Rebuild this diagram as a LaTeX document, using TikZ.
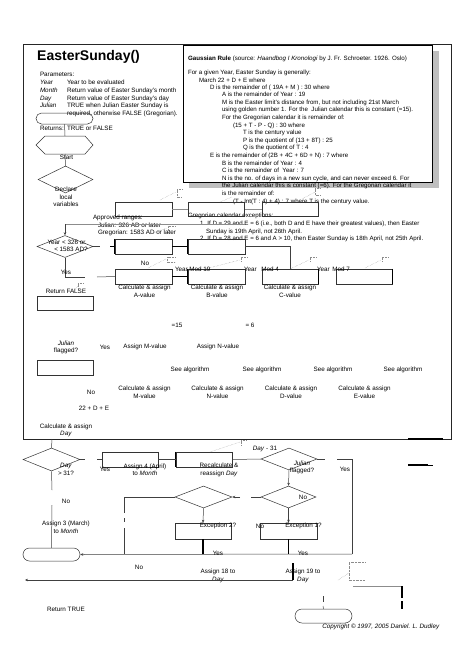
\documentclass[tikz,border=0pt]{standalone}
\usepackage{fontspec}
\setmainfont{Liberation Sans}
\usetikzlibrary{arrows.meta,shapes.geometric}
\begin{document}
\begin{tikzpicture}[x=1pt,y=-1pt,
  txt/.style={font=\fontsize{6.3}{7.5}\selectfont, inner sep=0pt, outer sep=0pt},
  ctxt/.style={txt, align=center},
  ltxt/.style={txt, anchor=mid west},
  gtxt/.style={ltxt, font=\fontsize{6.15}{7.5}\selectfont},
  pbox/.style={draw=black!80, line width=0.5pt, inner sep=0pt, minimum width=56pt, minimum height=15pt},
  term/.style={draw=black!80, line width=0.5pt, rounded corners=6pt, inner sep=0pt, minimum width=57pt, minimum height=12pt},
  dia/.style={draw=black!80, line width=0.5pt, diamond, inner sep=0pt},
  ln/.style={draw=black!75, line width=0.5pt},
  lnl/.style={draw=black!45, line width=0.5pt},
  tk/.style={draw=black, line width=1.1pt},
  dt/.style={draw=black!45, densely dotted, line width=0.4pt},
  arr/.style={-{Stealth[length=3pt,width=2.6pt]}},
]
\useasboundingbox[fill=white] (0,0) rectangle (474,670);

% outer frame
\draw[line width=0.9pt, black!85] (23,44) rectangle (451,439);

% title and parameters
\node[font=\fontsize{14}{16}\selectfont\bfseries, inner sep=0pt, anchor=mid west] (title) at (37,57.5) {EasterSunday()};
\node[ltxt] (ppar) at (40,74.3) {Parameters:};
\node[ltxt] (pyl) at (40,82.3) {\textit{Year}};
\node[ltxt] (pyd) at (67,82.3) {Year to be evaluated};
\node[ltxt] (pml) at (40,90) {\textit{Month}};
\node[ltxt] (pmd) at (67,90) {Return value of Easter Sunday's month};
\node[ltxt] (pdl) at (40,97.7) {\textit{Day}};
\node[ltxt] (pdd) at (67,97.7) {Return value of Easter Sunday's day};
\node[ltxt] (pjl) at (40,105) {\textit{Julian}};
\node[ltxt] (pjd) at (67,105) {TRUE when Julian Easter Sunday is};
\node[ltxt] (pjd2) at (67,112.7) {required, otherwise FALSE (Gregorian).};
\node[term, minimum height=11pt, rounded corners=5.5pt] (t0) at (64.5,118.5) {};
\node[ltxt] (pret) at (40,128.3) {Returns:};
\node[ltxt] (pretd) at (67,128.3) {TRUE or FALSE};

% hexagon
\draw[draw=black!80, line width=0.5pt] (36,145) -- (45,136) -- (85,136) -- (93,145) -- (85,154) -- (45,154) -- cycle;
\coordinate (hexT) at (65,136);
\coordinate (hexB) at (65,154);
\node[ctxt] (start) at (66.5,157.7) {Start};
\draw[ln] (t0.south) -- (hexT);

% declare diamond
\node[dia, minimum width=55pt, minimum height=27pt] (dl) at (65.5,179.5) {};
\draw[ln] (hexB) -- (dl.north);
\node[ctxt] (dltxt) at (66,197) {Declare\\local\\variables};

% Gaussian rule box
\fill[black!25] (189,51) rectangle (439,188);
\node[draw=black, line width=0.8pt, fill=white, inner sep=0pt, minimum width=249pt, minimum height=137pt] (gbox) at (307.5,113.5) {};
\node[ltxt, font=\fontsize{6.2}{7.5}\selectfont] (g0) at (188,58) {\textbf{Gaussian Rule} (source: \textit{Haandbog I Kronologi} by J. Fr. Schroeter. 1926. Oslo)};
\node[gtxt] (g1) at (188,72.3) {For a given Year, Easter Sunday is generally:};
\node[gtxt] (g2) at (199,79.5) {March 22 + D + E where};
\node[gtxt] (g3) at (210,87) {D is the remainder of ( 19A + M ) : 30 where};
\node[gtxt] (g4) at (222,94.3) {A is the remainder of Year : 19};
\node[gtxt] (g5) at (222,101.8) {M is the Easter limit's distance from, but not including 21st March};
\node[gtxt] (g6) at (222,109.3) {using golden number 1. For the \ Julian calendar this is constant (=15).};
\node[gtxt] (g7) at (222,117) {For the Gregorian calendar it is remainder of:};
\node[gtxt] (g8) at (233,124.4) {(15 + T - P - Q) : 30 where};
\node[gtxt] (g9) at (243,132) {T is the century value};
\node[gtxt] (g10) at (243,139.7) {P is the quotient of (13 + 8T) : 25};
\node[gtxt] (g11) at (243,147.3) {Q is the quotient of T : 4};
\node[gtxt] (g12) at (210,155) {E is the remainder of (2B + 4C + 6D + N) : 7 where};
\node[gtxt] (g13) at (222,162.4) {B is the remainder of Year : 4};
\node[gtxt] (g14) at (222,170) {C is the remainder of \ Year : 7};
\node[gtxt] (g15) at (222,177.4) {N is the no. of days in a new sun cycle, and can never exceed 6. For};
\node[gtxt] (g16) at (222,185) {the Julian calendar this is constant (=6). For the Gregorian calendar it};
\node[gtxt] (g17) at (222,192.7) {is the remainder of:};
\node[gtxt] (g18) at (233,200.5) {(T - Int(T : 4) + 4) : 7 where T is the century value.};
\node[gtxt] (g19) at (188,215) {Gregorian calendar exceptions:};
\node[gtxt] (g20) at (200,223) {1. If D = 29 and E = 6 (i.e., both D and E have their greatest values), then Easter};
\node[gtxt] (g21) at (206,230.7) {Sunday is 19th April, not 26th April.};
\node[gtxt] (g22) at (200,238.3) {2. If D = 28 and E = 6 and A > 10, then Easter Sunday is 18th April, not 25th April.};

% process boxes
\node[pbox, minimum width=57pt, minimum height=14pt] (a1) at (143.5,209) {};
\node[pbox, minimum height=14pt] (b1) at (216.5,209) {};
\node[pbox, minimum height=14pt] (c1) at (290,209) {};
\node[pbox, minimum width=57pt] (a2) at (143.5,246.5) {};
\node[pbox, minimum width=57pt] (b2) at (216.5,246.5) {};
\node[pbox, minimum width=57pt] (a3) at (143.5,276.5) {};
\node[pbox, minimum width=57pt] (b3) at (216.5,276.5) {};
\node[pbox] (c3) at (290,276.5) {};
\node[pbox] (d3) at (364,276.5) {};
\node[pbox, minimum height=14pt] (rf) at (65,303) {};
\node[pbox] (jf) at (65,367.5) {};
\node[pbox] (ap) at (130,459.5) {};
\node[pbox] (rc) at (204,459.5) {};
\node[pbox, minimum height=16pt] (e2) at (203,531) {};
\node[pbox, minimum width=57pt, minimum height=16pt] (e1) at (288.5,531) {};
\node[term, minimum height=13pt, rounded corners=6.5pt] (t1) at (51.5,554.5) {};
\node[term, minimum height=14pt, rounded corners=7pt] (t2) at (323.5,616) {};
\draw[tk] (a2.north west) -- (a2.south west);
\draw[tk] (b2.north west) -- (b2.south west);
\draw[tk] (b3.north west) -- (b3.south west);
\draw[tk, line width=0.9pt] (c3.north east) -- (c3.south east);
\draw[tk, line width=0.9pt] (d3.north east) -- (d3.south east);
\draw[tk, line width=0.9pt] (rc.north west) -- (rc.south west);

% row connectors
\draw[lnl] (a1.east) -- (b1.west);
\draw[lnl] (b1.east) -- (c1.west);
\draw[tk] (a2.east) -- (b2.west);
\draw[tk] (a3.east) -- (b3.west);
\draw[ln, line width=0.9pt] (b2.east) -- (290,246.5) -- (c3.north);

% year check
\node[ltxt] (apr1) at (93,217) {Approved ranges:};
\node[ltxt] (apr2) at (98,224.5) {Julian: 326 AD or later};
\node[ltxt] (apr3) at (98,232) {Gregorian: 1583 AD or later};
\coordinate (rngE) at (245,224);
\coordinate (rngL) at (65,224);
\draw[lnl] (rngE) -- (rngL);
\node[dia, minimum width=56pt, minimum height=22pt] (dy) at (65,246.5) {};
\draw[ln, arr] (rngL) -- (dy.north);
\node[ctxt] (dyt1) at (66.5,242) {Year < 326 or};
\node[ctxt] (dyt2) at (71,249) {< 1583 AD?};
\coordinate (dyg1) at (100,246.5);
\coordinate (dyg2) at (110,246.5);
\draw[ln] (dy.east) -- (dyg1);
\draw[tk] (dyg2) -- (a2.west);
\coordinate (ysg1) at (85,277);
\coordinate (ysg2) at (97,277);
\draw[ln] (dy.south) |- (ysg1);
\draw[ln] (ysg2) -- (a3.west);
\node[ctxt] (no1) at (145,263) {No};
\node[ctxt] (yes1) at (66,272) {Yes};
\node[ctxt] (retf) at (66,291) {Return FALSE};

\node[ltxt] (ym19) at (175,269) {Year Mod 19};
\node[ltxt] (ym4) at (244,269) {Year\hspace{3pt} Mod 4};
\node[ltxt] (ym7) at (317,269) {Year\hspace{1pt} Mod 7};
\node[ctxt] (ca) at (144.5,291.3) {Calculate \& assign\\A-value};
\node[ctxt] (cb) at (217,291.3) {Calculate \& assign\\B-value};
\node[ctxt] (cc) at (290,291.3) {Calculate \& assign\\C-value};

\node[ctxt] (eq15) at (177,325) {=15};
\node[ctxt] (eq6) at (250,325) {= 6};
\node[ctxt] (jfl) at (66,347.5) {\textit{Julian}\\flagged?};
\node[ctxt] (yes2) at (105,347) {Yes};
\node[ctxt] (asm) at (145,347) {Assign M-value};
\node[ctxt] (asn) at (218,347) {Assign N-value};
\node[ctxt] (sa1) at (190,370) {See algorithm};
\node[ctxt] (sa2) at (262,370) {See algorithm};
\node[ctxt] (sa3) at (333,370) {See algorithm};
\node[ctxt] (sa4) at (403,370) {See algorithm};
\node[ctxt] (no2) at (91,392) {No};
\node[ctxt] (cm) at (144.5,392) {Calculate \& assign\\M-value};
\node[ctxt] (cn) at (217.5,392) {Calculate \& assign\\N-value};
\node[ctxt] (cd) at (291,392) {Calculate \& assign\\D-value};
\node[ctxt] (ce) at (364.5,392) {Calculate \& assign\\E-value};
\node[ctxt] (dde) at (94,408) {22 + D + E};
\node[ctxt] (cday) at (66,430.5) {Calculate \& assign\\\textit{Day}};

% right-hand thick marks
\draw[line width=2pt] (408,439) -- (443,439);
\draw[line width=2.2pt] (408,465) -- (428,465);
\draw[line width=1pt] (428,465) -- (433,465);

% lower flow
\coordinate (fb) at (52,439);
\node[dia, minimum width=57pt, minimum height=23pt] (dd) at (51.5,459.5) {};
\draw[ln] (fb) -- (dd.north);
\node[ctxt] (ddt) at (66,469.5) {\textit{Day}\\> 31?};
\coordinate (ddg1) at (85,459.5);
\coordinate (ddg2) at (97,459.5);
\draw[ln] (dd.east) -- (ddg1);
\draw[ln] (ddg2) -- (ap.west);
\node[ctxt] (yes3) at (105,469.5) {Yes};
\node[ctxt] (apt) at (145,469.5) {Assign 4 (April)\\to \textit{Month}};
\draw[ln] (ap.east) -- (rc.west);
\node[ctxt] (rct) at (219,470) {Recalculate \&\\reassign \textit{Day}};
\node[dia, minimum width=56pt, minimum height=22pt] (dj) at (289,459) {};
\draw[ln] (rc.east) -- (dj.west);
\node[ctxt] (d31) at (265,449) {\textit{Day} - 31};
\node[ctxt] (djt) at (302,467.5) {\textit{Julian}\\flagged?};
\coordinate (djg1) at (325,459);
\coordinate (djg2) at (337,459);
\coordinate (ycorner) at (352,459);
\coordinate (ybot) at (352,554);
\draw[ln] (dj.east) -- (djg1);
\draw[ln] (djg2) -- (ycorner) -- (ybot);
\draw[ln, arr] (ybot) -- (t1.east);
\node[ctxt] (yes4) at (345,469) {Yes};

\node[dia, minimum width=55pt, minimum height=22pt] (de1) at (288.5,497) {};
\node[dia, minimum width=57pt, minimum height=22pt] (de2) at (203.5,497) {};
\draw[ln, arr] (dj.south) -- (de1.north);
\node[ctxt] (not) at (303,497) {No};
\coordinate (eg1) at (251,497);
\coordinate (eg2) at (240,497);
\draw[ln] (de1.west) -- (eg1);
\draw[ln, arr] (eg2) -- (de2.east);
\draw[ln, arr] (de1.south) -- (e1.north);
\draw[ln, arr] (de2.south) -- (e2.north);
\node[ctxt] (ex2) at (218,526) {Exception 2?};
\node[ctxt] (no5) at (260,526) {No};
\node[ctxt] (ex1) at (303.5,526) {Exception 1?};
\coordinate (e1b) at (288.5,554);
\coordinate (e2b) at (203,554);
\draw[tk] (e1.south) -- (e1b);
\draw[tk] (e2.south) -- (e2b);
\node[ctxt] (yes5) at (218,553) {Yes};
\node[ctxt] (yes6) at (303,553) {Yes};
\node[ctxt] (no6) at (139,567) {No};
\node[ctxt] (as18) at (218,576) {Assign 18 to\\\textit{Day}};
\node[ctxt] (as19) at (303,576) {Assign 19 to\\\textit{Day}};

% left loop from exception 2
\coordinate (lk1) at (124,497);
\coordinate (lk2) at (124,513);
\coordinate (lk3) at (124,518);
\coordinate (lk4) at (124,522);
\coordinate (lk5) at (124,528);
\coordinate (lk6) at (124,554);
\draw[ln] (de2.west) -- (lk1) -- (lk2);
\draw[ln] (lk3) -- (lk4);
\draw[ln] (lk5) -- (lk6);

% left column
\coordinate (dds1) at (52,490);
\coordinate (dds2) at (52,505);
\draw[ln] (dd.south) -- (dds1);
\draw[ln] (dds2) -- (t1.north);
\node[ctxt] (no4) at (66,501) {No};
\node[ctxt] (as3) at (66,527) {Assign 3 (March)\\to \textit{Month}};

% bottom return line
\coordinate (bt1) at (293,563);
\coordinate (bt2) at (293,580);
\coordinate (bt3) at (25,580);
\draw[tk] (bt1) -- (bt2);
\draw[ln, arr] (bt2) -- (bt3);
\node[ctxt] (rett) at (66,609) {Return TRUE};

% bottom right fragments
\coordinate (t2a) at (323,596);
\coordinate (t2b) at (323,602);
\coordinate (t2c) at (323,606);
\draw[ln] (t2a) -- (t2b);
\draw[ln] (t2c) -- (t2.north);
\coordinate (gr1) at (353,586);
\coordinate (gr2) at (402,586);
\coordinate (gr3) at (402,598);
\coordinate (gr4) at (402,601);
\coordinate (gr5) at (402,609);
\draw[lnl] (gr1) -- (gr2);
\draw[tk] (gr2) -- (gr3);
\draw[tk] (gr4) -- (gr5);
\node[ctxt] (copy) at (381,627) {\textit{Copyright © 1997, 2005 Daniel. L. Dudley}};

% dotted callout fragments
\draw[dt] (160,200) -- (176,192);
\draw[dt] (182,189) -- (177,189) -- (177,197) -- (182,197);
\draw[dt] (220,202) -- (232,197);
\draw[dt] (302,199) -- (315,192);
\draw[dt] (320,188) -- (315,188) -- (315,195) -- (320,195);
\draw[dt] (150,234) -- (167,228);
\draw[dt] (175,226) -- (168,226) -- (168,232);
\draw[dt] (148,268) -- (166,259);
\draw[dt] (175,257) -- (167,257) -- (167,262) -- (175,262);
\draw[dt] (205,269) -- (240,260);
\draw[dt] (247,257) -- (241,257) -- (241,262);
\draw[dt] (290,269) -- (309,260);
\draw[dt] (316,257) -- (310,257) -- (310,262);
\draw[dt] (365,268) -- (381,260);
\draw[dt] (388,257) -- (382,257) -- (382,262);
\draw[dt] (75,290) -- (78,286);
\draw[dt] (83,283) -- (78,283) -- (78,288);
\draw[dt] (210,452) -- (240,442);
\draw[dt] (246,440) -- (241,440) -- (241,446);
\draw[dt] (338,580) -- (349,573);
\draw[dt] (365,562) -- (349,562) -- (349,580) -- (365,580);
\end{tikzpicture}
\end{document}
